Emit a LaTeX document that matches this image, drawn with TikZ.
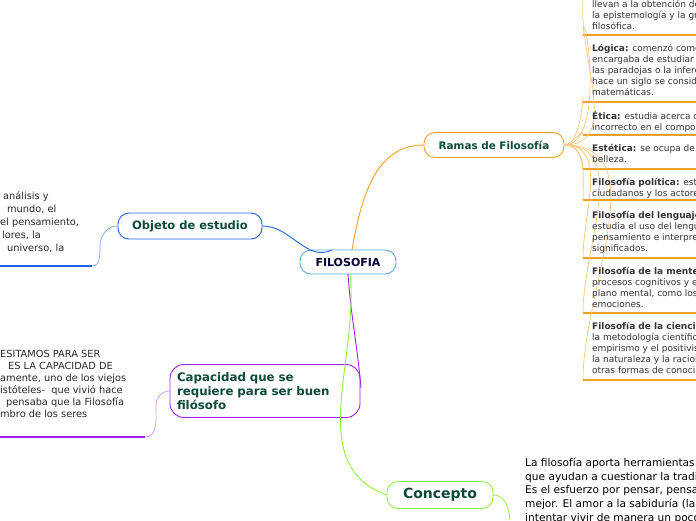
\documentclass[tikz,border=0pt]{standalone}
\usepackage{fontspec}
\setmainfont{DejaVu Sans}
\begin{document}
\begin{tikzpicture}[x=1pt,y=-1pt,
  topic/.style={draw,rounded corners=11pt,line width=0.9pt,font=\fontsize{11.5}{14}\selectfont\bfseries,text=lbl,inner sep=0pt,align=left},
  small/.style={anchor=west,inner sep=0pt,font=\fontsize{9}{11}\selectfont,text=black!80,align=left},
  frag/.style={anchor=base west,inner sep=0pt,font=\fontsize{9.8}{12}\selectfont,text=black!85}]
\definecolor{lbl}{HTML}{0B4A3A}
\definecolor{cblue}{HTML}{5AA9E0}
\definecolor{oblue}{HTML}{2060E8}
\definecolor{cpur}{HTML}{A020F0}
\definecolor{cor}{HTML}{F5A020}
\definecolor{cgr}{HTML}{90F040}
\useasboundingbox (0,0) rectangle (696,520);
\clip (0,0) rectangle (696,520);
% nodes
\node[topic,draw=cblue,minimum width=96pt,minimum height=24pt,align=center,text=black!80!blue,font=\fontsize{11}{12}\selectfont\bfseries] (F) at (348,262) {FILOSOFIA};
\node[topic,draw=oblue,minimum width=144pt,minimum height=26pt,align=center] (O) at (190,226) {Objeto de estudio};
\node[topic,draw=cpur,minimum width=190pt,minimum height=53pt,rounded corners=14pt,text width=176pt,font=\fontsize{11.8}{14}\selectfont\bfseries] (C) at (265,391) {Capacidad que se\\requiere para ser buen\\filósofo};
\node[topic,draw=cor,minimum width=140pt,minimum height=25pt,align=center,font=\fontsize{10.4}{12}\selectfont\bfseries] (R) at (494,145) {Ramas de Filosofía};
\node[topic,draw=cgr,minimum width=106pt,minimum height=27pt,align=center,font=\fontsize{14}{16}\selectfont\bfseries] (K) at (440,495) {Concepto};
% central connectors
\draw[oblue,line width=0.9pt] (332,250) to[out=205,in=0] (O.east);
\draw[cor,line width=0.9pt] (352,250) to[out=80,in=180] (R.west);
\draw[cpur,line width=0.9pt] (348,274) to[out=-86,in=95] (361,388);
\draw[cgr,line width=0.9pt] (350,274) to[out=-84,in=160] (K.west);
% objeto text
\coordinate (oe) at (0,266);
\draw[oblue!60,line width=0.7pt] (O.west) to[out=180,in=90] (100,246) to[out=-90,in=0] (92,266);
\draw[oblue,line width=1.4pt] (92,266) -- (oe);
\node[frag] (o1) at (3,199) {análisis y};
\node[frag] (o2) at (7,212) {mundo, el};
\node[frag] (o3) at (0,225) {el pensamiento,};
\node[frag] (o4) at (2,238) {lores, la};
\node[frag] (o5) at (7,251) {universo, la};
% capacidad text
\coordinate (ce) at (0,437);
\draw[cpur!50,line width=0.7pt] (C.west) to[out=180,in=90] (156,405) to[out=-90,in=0] (145,437);
\draw[cpur,line width=1.4pt] (145,437) -- (ce);
\node[frag] (c1) at (0,357) {ESITAMOS PARA SER};
\node[frag] (c2) at (8,369) {ES LA CAPACIDAD DE};
\node[frag] (c3) at (0,381) {amente, uno de los viejos};
\node[frag] (c4) at (0,393) {istóteles-\ \ que vivió hace};
\node[frag] (c5) at (6,405) {pensaba que la Filosofía};
\node[frag] (c6) at (0,417) {mbro de los seres};
% ramas items
\foreach \n/\y in {0/35,1/102,2/135,3/169,4/200,5/258,6/313,7/380}{
  \coordinate (u\n) at (583,\y);
  \coordinate (e\n) at (696,\y);
  \draw[cor!60,line width=0.7pt] (R.east) to[out=0,in=90] (u\n);
  \draw[cor,line width=1.4pt] (u\n) -- (e\n);
}
\draw[cor!60,line width=0.7pt] (R.east) to[out=0,in=-95] (583,0);
\node[small,anchor=north west] (t0) at (592,0) {llevan a la obtención del\\la epistemología y la gran\\filosófica.};
\node[small,anchor=north west] (t1) at (592,44) {\textbf{Lógica:} comenzó como\\encargaba de estudiar\\las paradojas o la inferencia\\hace un siglo se considera\\matemáticas.};
\node[small,anchor=north west] (t2) at (592,111) {\textbf{Ética:} estudia acerca de\\incorrecto en el comporta};
\node[small,anchor=north west] (t3) at (592,144) {\textbf{Estética:} se ocupa de la\\belleza.};
\node[small,anchor=north west] (t4) at (592,178) {\textbf{Filosofía política:} estudia\\ciudadanos y los actores};
\node[small,anchor=north west] (t5) at (592,211) {\textbf{Filosofía del lenguaje}\\estudia el uso del lenguaje\\pensamiento e interpretar\\significados.};
\node[small,anchor=north west] (t6) at (592,267) {\textbf{Filosofía de la mente}\\procesos cognitivos y el\\plano mental, como los\\emociones.};
\node[small,anchor=north west] (t7) at (592,322) {\textbf{Filosofía de la ciencia}\\la metodología científica\\empirismo y el positivismo\\la naturaleza y la racional\\otras formas de conocimiento};
% concepto
\coordinate (ke) at (510,520);
\draw[cgr,line width=0.8pt] (K.east) to[out=0,in=95] (ke);
\node[anchor=north west,inner sep=0pt,font=\fontsize{10.6}{13.6}\selectfont,align=left] (kt) at (525,458) {La filosofía aporta herramientas\\que ayudan a cuestionar la tradición\\Es el esfuerzo por pensar, pensar\\mejor. El amor a la sabiduría (la\\intentar vivir de manera un poco};
\end{tikzpicture}
\end{document}
